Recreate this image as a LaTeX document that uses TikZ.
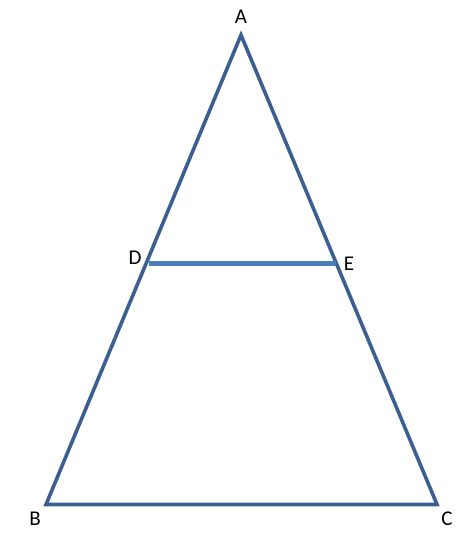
\documentclass[tikz,border=0pt]{standalone}
\usepackage{fontspec}
\setmainfont{Carlito}
\definecolor{edgeblue}{HTML}{3B5F8F}
\definecolor{midblue}{HTML}{4A7EBB}
\tikzset{
  side/.style={draw=edgeblue, line width=3.6pt, line join=miter},
  midline/.style={draw=midblue, line width=5pt},
  vlabel/.style={font=\fontsize{21}{21}\selectfont, inner sep=0pt}
}
\begin{document}
\begin{tikzpicture}[x=1pt, y=-1pt]

  \useasboundingbox (0,0) rectangle (474,536);

  \coordinate (A) at (241, 35);
  \coordinate (B) at ( 46,504.5);
  \coordinate (C) at (437,504.5);
  \coordinate (D) at (149,263);
  \coordinate (E) at (336,263);

  \draw[side] (A) -- (B) -- (C) -- cycle;
  \draw[midline] (D) -- (E); %% D->E

  \node[vlabel] (lA) at (241, 16.5) {A};
  \node[vlabel] (lB) at ( 35,518.5) {B};
  \node[vlabel] (lC) at (447,518.5) {C};
  \node[vlabel] (lD) at (135,258) {D};
  \node[vlabel] (lE) at (349,263.5) {E};
\end{tikzpicture}
\end{document}
